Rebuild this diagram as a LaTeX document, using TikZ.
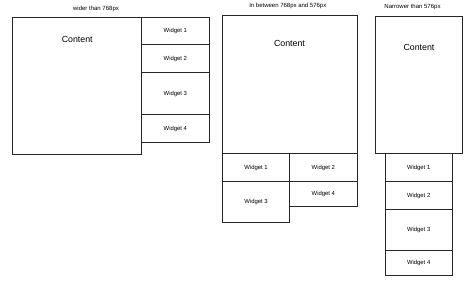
\documentclass[tikz,border=0pt]{standalone}
\usepackage{fontspec}
\setmainfont{Liberation Sans}
\tikzset{
  box/.style={draw=black!85, line width=1pt, fill=none, inner sep=0pt, outer sep=0pt},
  wtext/.style={font=\fontsize{5.9}{7}\selectfont},
  ctext/.style={font=\fontsize{8.8}{10}\selectfont, inner sep=0pt},
  ttext/.style={font=\fontsize{6}{7}\selectfont, inner sep=0pt},
}
\newcommand{\mybox}[6]{%
  \node[box, wtext, minimum width={(#4-#2)*1pt}, minimum height={(#5-#3)*1pt}] (#1) at ({(#2+#4)/2},{(#3+#5)/2}) {#6};}
\begin{document}
\begin{tikzpicture}[x=1pt,y=-1pt]
\useasboundingbox (0,0) rectangle (474,286);
% panel 1
\node[ttext] (t1) at (96,9) {wider than 768px};
\mybox{c1}{12.7}{17.7}{141.7}{154.3}{}
\node[ctext] (ct1) at (77.2,39) {Content};
\mybox{a1}{141.7}{17.7}{209}{45}{Widget 1}
\mybox{a2}{141.7}{45}{209}{73}{Widget 2}
\mybox{a3}{141.7}{73}{209}{115}{Widget 3}
\mybox{a4}{141.7}{115}{209}{142.7}{Widget 4}
% panel 2
\node[ttext] (t2) at (287.8,6) {In between 768px and 576px};
\mybox{c2}{222.5}{15.7}{357}{154}{}
\node[ctext] (ct2) at (289.5,43) {Content};
\mybox{b1}{222.5}{154}{289.7}{181.7}{Widget 1}
\mybox{b2}{289.7}{154}{357}{181.7}{Widget 2}
\mybox{b3}{222.5}{181.7}{289.7}{222.3}{Widget 3}
\mybox{b4}{289.7}{181.7}{357}{206.7}{Widget 4}
% panel 3
\node[ttext] (t3) at (412.5,6.5) {Narrower than 576px};
\mybox{c3}{375.7}{16.3}{462.5}{153.5}{}
\node[ctext] (ct3) at (419,47) {Content};
\mybox{d1}{385}{153.5}{452.3}{181.7}{Widget 1}
\mybox{d2}{385}{181.7}{452.3}{209.7}{Widget 2}
\mybox{d3}{385}{209.7}{452.3}{250.3}{Widget 3}
\mybox{d4}{385}{250.3}{452.3}{275.3}{Widget 4}
\end{tikzpicture}
\end{document}
